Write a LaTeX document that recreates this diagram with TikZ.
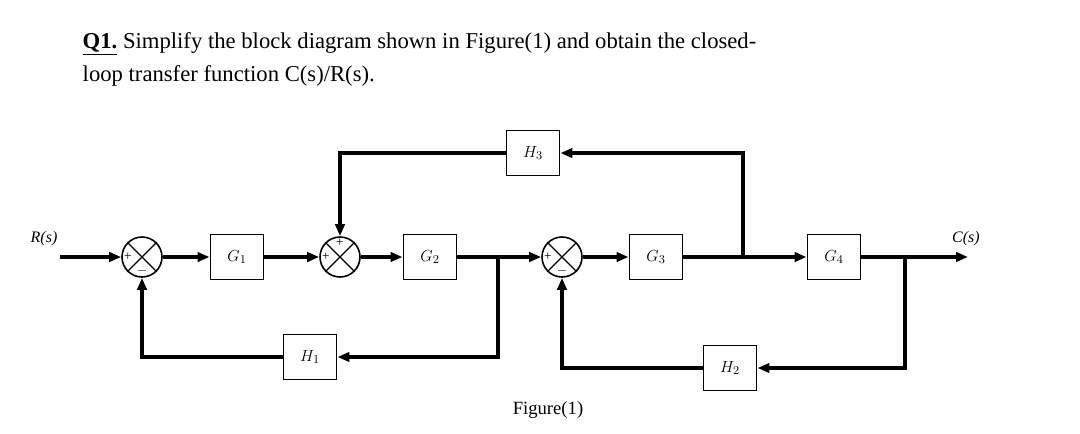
\documentclass[tikz,border=0pt]{standalone}
\usepackage{fontspec}
\setmainfont{Liberation Serif}
\usetikzlibrary{arrows.meta}
\begin{document}
\begin{tikzpicture}[x=0.75pt,y=-0.75pt,
  blk/.style={draw,line width=1.2pt,minimum width=40pt,minimum height=34pt,inner sep=0pt,font=\fontsize{13}{13}\selectfont,fill=white},
  sumj/.style={draw,line width=1.2pt,circle,minimum size=30pt,inner sep=0pt},
  ar/.style={line width=2.4pt,-{Triangle[length=9pt,width=7pt]}},
  sg/.style={font=\fontsize{10}{10}\selectfont,inner sep=0pt}]
\useasboundingbox (0,0) rectangle (1080,433);
\node[anchor=west,font=\fontsize{17}{19}\selectfont] (t1) at (78,44) {\textbf{\underline{Q1.}} Simplify the block diagram shown in Figure(1) and obtain the closed-};
\node[anchor=west,font=\fontsize{17}{19}\selectfont] (t2) at (78,76) {loop transfer function C(s)/R(s).};
\coordinate (in) at (60,257);
\node[sumj] (s1) at (142,257) {};
\node[blk] (g1) at (237,257) {$G_1$};
\node[sumj] (s2) at (340,257) {};
\node[blk] (g2) at (430,257) {$G_2$};
\node[sumj] (s3) at (562,257) {};
\node[blk] (g3) at (656,257) {$G_3$};
\node[blk] (g4) at (834,257) {$G_4$};
\node[blk] (h3) at (533,153) {$H_3$};
\node[blk] (h1) at (310,357) {$H_1$};
\node[blk] (h2) at (730,368) {$H_2$};
\coordinate (out) at (968,257);
\coordinate (b1) at (498,257);
\coordinate (b2) at (743,257);
\coordinate (b3) at (905,257);
\foreach \s in {s1,s2,s3}{
  \draw[line width=1pt] (\s.north west)--(\s.south east) (\s.north east)--(\s.south west);
  \node[sg] at ([xshift=-10.5pt]\s.center) {+};}
\node[sg] at ([yshift=-10.5pt]s1.center) {$-$};
\node[sg] at ([yshift=10.5pt]s2.center) {+};
\node[sg] at ([yshift=-10.5pt]s3.center) {$-$};
\node[font=\itshape\fontsize{12}{12}\selectfont] (rl) at (44,239) {R(s)};
\node[font=\itshape\fontsize{12}{12}\selectfont] (cl) at (966,239) {C(s)};
\draw[ar] (in)--(s1);
\draw[ar] (s1)--(g1);
\draw[ar] (g1)--(s2);
\draw[ar] (s2)--(g2);
\draw[ar] (g2)--(s3);
\draw[ar] (s3)--(g3);
\draw[ar] (g3)--(g4);
\draw[ar] (g4)--(out);
\draw[ar] (b1)|-(h1);
\draw[ar] (h1)-|(s1);
\draw[ar] (b2)|-(h3);
\draw[ar] (h3)-|(s2);
\draw[ar] (b3)|-(h2);
\draw[ar] (h2)-|(s3);
\node[font=\fontsize{14}{16}\selectfont] (fig) at (548,410) {Figure(1)};
\end{tikzpicture}
\end{document}
